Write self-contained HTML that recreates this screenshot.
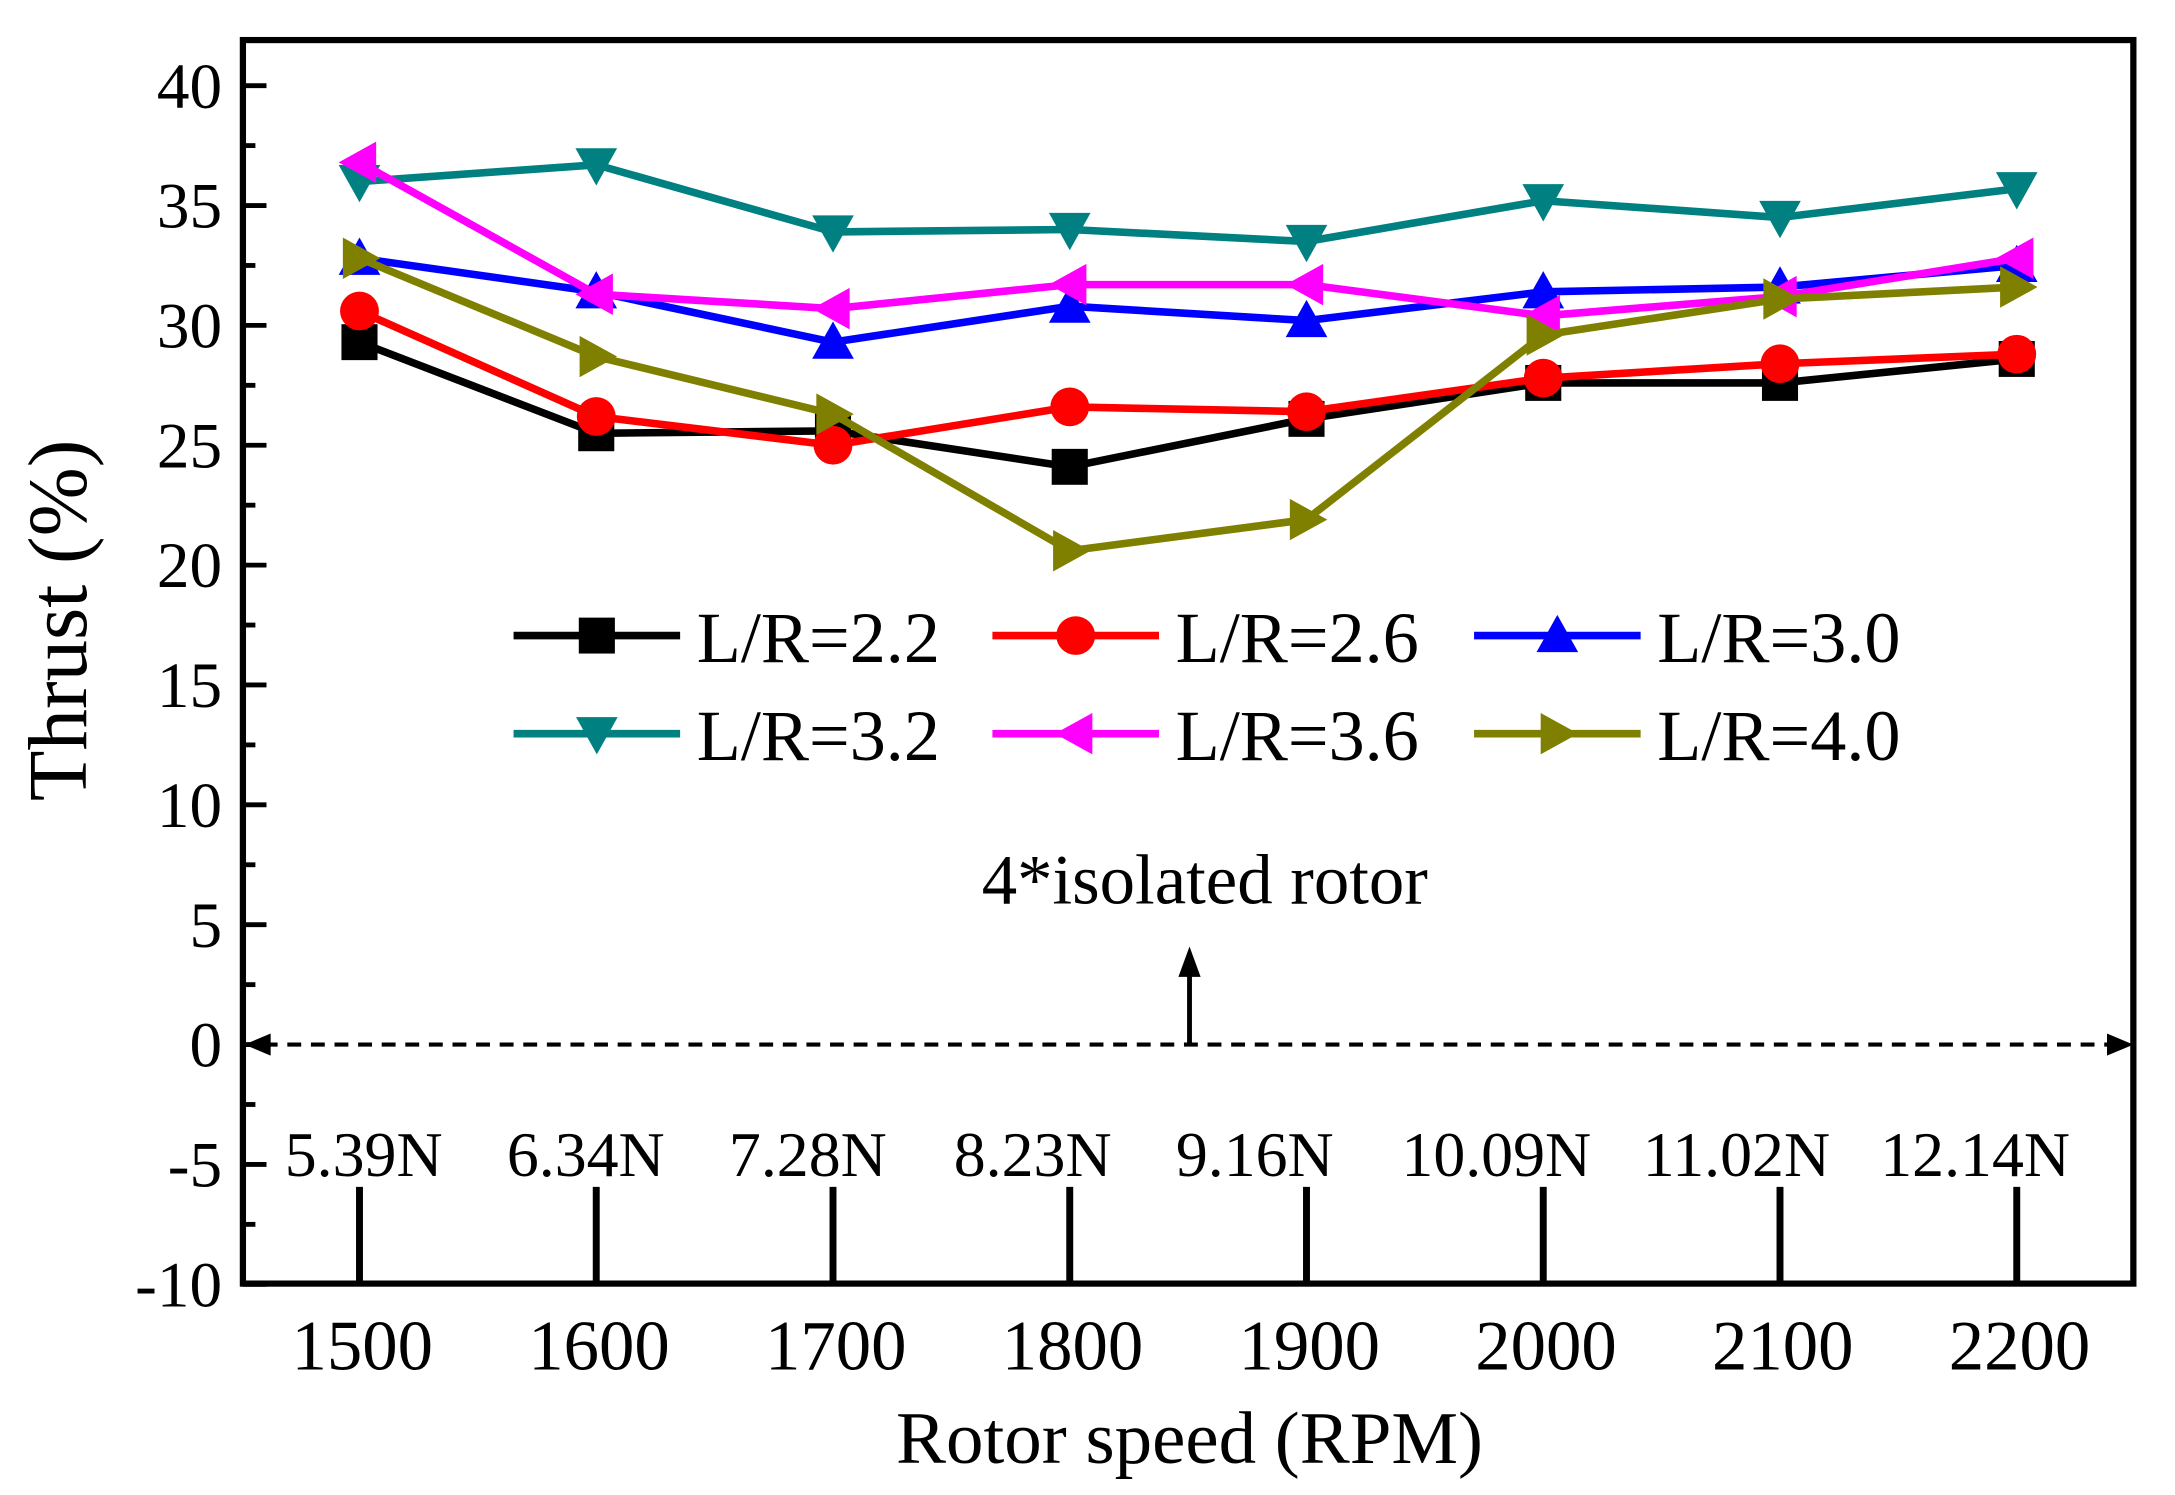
<!DOCTYPE html>
<html><head><meta charset="utf-8"><style>
html,body{margin:0;padding:0;background:#fff;}
svg{display:block;}
text{font-family:"Liberation Serif",serif;fill:#000;}
</style></head><body>
<svg id="s" width="2175" height="1495" viewBox="0 -1 1567 1082" preserveAspectRatio="none" xmlns="http://www.w3.org/2000/svg">
<rect x="175" y="28" width="1362" height="900" fill="none" stroke="#000" stroke-width="4.5"/>
<g id="g"></g>
<text x="868" y="653" font-size="51" text-anchor="middle">4*isolated rotor</text>
<line x1="857" y1="755" x2="857" y2="702" stroke="#000" stroke-width="3.5"/>
<polygon points="857,684 849,706 865,706" fill="#000"/>
<line x1="190" y1="755" x2="1522" y2="755" stroke="#000" stroke-width="3" stroke-dasharray="10,7"/>
<polygon points="176,755 195,747 195,763" fill="#000"/>
<polygon points="1537,755 1518,747 1518,763" fill="#000"/>
<text transform="translate(62,448) rotate(-90)" font-size="60" text-anchor="middle">Thrust (%)</text>
<text x="857" y="1058" font-size="54" text-anchor="middle">Rotor speed (RPM)</text>
</svg>
<script>
var g=document.getElementById('g'),h='';
function Y(v){return 755-v*17.35;}function X(i){return 259+i*170.57;}
for(var v=-10;v<=40;v+=5){var y=Y(v);h+='<line x1="175" y1="'+y+'" x2="192" y2="'+y+'" stroke="#000" stroke-width="3.5"/>';
h+='<text x="160" y="'+(y+16)+'" font-size="47" text-anchor="end">'+v+'</text>';
if(v<40){var ym=Y(v+2.5);h+='<line x1="175" y1="'+ym+'" x2="184" y2="'+ym+'" stroke="#000" stroke-width="3.5"/>';}}
var rp=[1500,1600,1700,1800,1900,2000,2100,2200],fn=['5.39N','6.34N','7.28N','8.23N','9.16N','10.09N','11.02N','12.14N'],fx=[262,422,582,744,904,1078,1251,1423];
for(var i=0;i<8;i++){var x=X(i);h+='<text x="'+(x+2)+'" y="990" font-size="51" text-anchor="middle">'+rp[i]+'</text>';
h+='<text x="'+fx[i]+'" y="850" font-size="46" text-anchor="middle">'+fn[i]+'</text>';
h+='<line x1="'+x+'" y1="858" x2="'+x+'" y2="928" stroke="#000" stroke-width="5"/>';}
function mk(t,x,y,c,s){s=s||14;
if(t=='sq')return '<rect x="'+(x-s+2)+'" y="'+(y-s+2)+'" width="'+(2*s-4)+'" height="'+(2*s-4)+'" fill="'+c+'"/>';
if(t=='ci')return '<circle cx="'+x+'" cy="'+y+'" r="'+(s-1)+'" fill="'+c+'"/>';
var p;if(t=='up')p=[[x,y-s],[x-s,y+s*0.8],[x+s,y+s*0.8]];if(t=='dn')p=[[x,y+s],[x-s,y-s*0.8],[x+s,y-s*0.8]];
if(t=='lf')p=[[x-s,y],[x+s*0.8,y-s],[x+s*0.8,y+s]];if(t=='rt')p=[[x+s,y],[x-s*0.8,y-s],[x-s*0.8,y+s]];
return '<polygon points="'+p.join(' ')+'" fill="'+c+'"/>';}
var S=[
['#000','sq',[29.3,25.5,25.6,24.1,26.1,27.6,27.6,28.6],'L/R=2.2',370,459],
['#ff0000','ci',[30.6,26.2,25.0,26.6,26.4,27.8,28.4,28.8],'L/R=2.6',715,459],
['#0000ff','up',[32.8,31.4,29.3,30.8,30.2,31.4,31.6,32.5],'L/R=3.0',1062,459],
['#008080','dn',[36.0,36.7,33.9,34.0,33.5,35.2,34.5,35.7],'L/R=3.2',370,530],
['#ff00ff','lf',[36.8,31.3,30.7,31.7,31.7,30.4,31.2,32.8],'L/R=3.6',715,530],
['#808000','rt',[32.8,28.7,26.3,20.6,21.9,29.6,31.1,31.6],'L/R=4.0',1062,530]];
S.forEach(function(s){var pts=s[2].map(function(v,i){return X(i)+','+Y(v);});
h+='<polyline points="'+pts.join(' ')+'" fill="none" stroke="'+s[0]+'" stroke-width="5.5" stroke-linejoin="round"/>';
s[2].forEach(function(v,i){h+=mk(s[1],X(i),Y(v),s[0],15);});
var lx=s[4],ly=s[5];h+='<line x1="'+lx+'" y1="'+ly+'" x2="'+(lx+120)+'" y2="'+ly+'" stroke="'+s[0]+'" stroke-width="5.5"/>'+mk(s[1],lx+60,ly,s[0],15);
h+='<text x="'+(lx+132)+'" y="'+(ly+19)+'" font-size="52">'+s[3]+'</text>';});
g.innerHTML=h;
</script>
</body></html>
